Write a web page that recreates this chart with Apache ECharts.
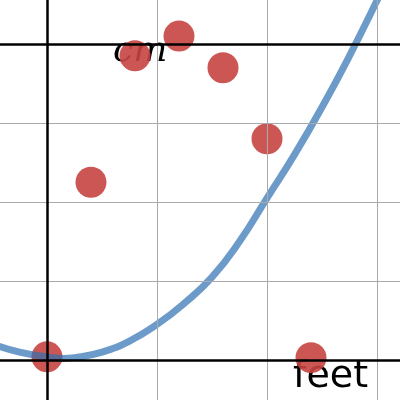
<!DOCTYPE html>
<html>
<head>
<meta charset="utf-8">
<script src="https://cdn.jsdelivr.net/npm/echarts@6/dist/echarts.min.js"></script>
<style>html,body{margin:0;padding:0;background:#fff}#chart{width:400px;height:400px}</style>
</head>
<body>
<div id="chart"></div>
<script>
var pointX = [0, 0.4, 0.8, 1.2, 1.6, 2.0, 2.4];
var pointY = [0.04, 2.25, 3.85, 4.1, 3.7, 2.8, 0.03];
var curveX = [-0.45, -0.25, 0, 0.15, 0.25, 0.5, 0.75, 1, 1.25, 1.5, 1.75, 2, 2.25, 2.5, 2.75, 3, 3.1, 3.25];
var curveY = [0.18, 0.1, 0.04, 0.02, 0.03, 0.1, 0.24, 0.45, 0.72, 1.05, 1.5, 2.05, 2.6, 3.2, 3.85, 4.55, 4.85, 5.25];
var gridX = [1, 2, 3];
var gridY = [1, 2, 3];
var axisX = [0];
var axisY = [0, 4];

var myChart = echarts.init(document.getElementById('chart'));

var lines = [];
gridX.forEach(function (v) { lines.push({ xAxis: v, lineStyle: { color: '#aaa', width: 1, type: 'solid' } }); });
gridY.forEach(function (v) { lines.push({ yAxis: v, lineStyle: { color: '#aaa', width: 1, type: 'solid' } }); });
axisX.forEach(function (v) { lines.push({ xAxis: v, lineStyle: { color: '#000', width: 2.5, type: 'solid' } }); });
axisY.forEach(function (v) { lines.push({ yAxis: v, lineStyle: { color: '#000', width: 2.5, type: 'solid' } }); });

myChart.setOption({
    animation: false,
    grid: { left: 0, right: 0, top: 0, bottom: 0 },
    xAxis: { type: 'value', min: -0.427, max: 3.209, show: false, splitLine: { show: false } },
    yAxis: { type: 'value', min: -0.506, max: 4.557, show: false, splitLine: { show: false } },
    graphic: [
        { type: 'text', left: 113, top: 34, style: { text: 'cm', font: 'italic 36px "DejaVu Serif", serif', fill: '#000' } },
        { type: 'text', left: 293, top: 358, style: { text: 'feet', font: '38px "DejaVu Sans", sans-serif', fill: '#000' } }
    ],
    series: [{
        type: 'line',
        data: [],
        silent: true,
        markLine: { symbol: 'none', silent: true, label: { show: false }, data: lines }
    }, {
        type: 'line',
        smooth: true,
        showSymbol: false,
        data: curveX.map(function (x, i) { return [x, curveY[i]]; }),
        lineStyle: { color: '#2d70b3', width: 7, opacity: 0.7 }
    }, {
        type: 'scatter',
        symbolSize: 31,
        data: pointX.map(function (x, i) { return [x, pointY[i]]; }),
        itemStyle: { color: '#c74440', opacity: 0.9 }
    }]
});
</script>
</body>
</html>
